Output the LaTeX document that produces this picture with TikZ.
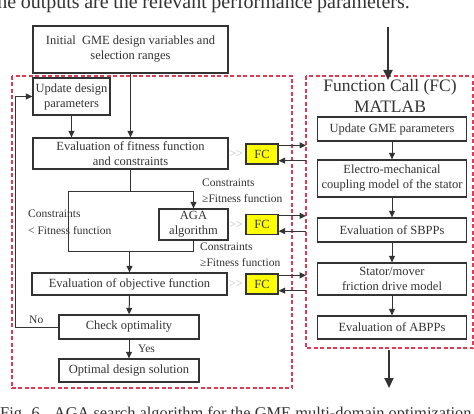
\documentclass[tikz,border=0pt]{standalone}
\usepackage{fontspec}
\setmainfont{Liberation Serif}
\usetikzlibrary{arrows.meta}

\definecolor{ink}{HTML}{333333}
\definecolor{dashred}{HTML}{E23A55}
\definecolor{fcyellow}{HTML}{FFFF00}

\begin{document}
\begin{tikzpicture}[x=1pt, y=-1pt,
	box/.style={draw=ink, line width=1.3pt, text=ink, align=center, inner sep=0pt,
		font=\fontsize{12.5}{15}\selectfont},
	fcbox/.style={box, fill=fcyellow, minimum width=32pt, minimum height=20pt},
	frame/.style={draw=dashred, line width=1.1pt, dash pattern=on 4pt off 2.5pt},
	flow/.style={draw=ink, line width=1pt, -{Triangle[width=6pt,length=6.5pt]}},
	wire/.style={draw=ink, line width=1pt},
	big/.style={draw=ink, line width=2pt, -{Triangle[width=9pt,length=10pt]}},
	lbl/.style={text=ink, inner sep=0pt, anchor=west, font=\fontsize{11.5}{13}\selectfont},
	gt/.style={text=gray!50, inner sep=0pt, font=\fontsize{12}{13}\selectfont}]

% canvas %{{{2

	\fill[white] (0,0) rectangle (474,414);
	\path[use as bounding box, clip] (0,0) rectangle (474,414);

% parameters %{{{2

	\def\fcx{262}
	\def\matx{392}

% text around the figure %{{{2

	\node[anchor=base east, inner sep=0pt, text=ink, font=\fontsize{20}{24}\selectfont]
		(intro) at (410,9)
		{\makebox[418pt][s]{the outputs are the relevant performance parameters.}};
	\node[anchor=base west, inner sep=0pt, text=ink, font=\fontsize{16.4}{20}\selectfont]
		(caption) at (0,418)
		{Fig. 6.\hspace{10pt}AGA search algorithm for the GME multi-domain optimization};

% dashed frames %{{{2

	\draw[frame] (12,76) rectangle (292,388);
	\draw[frame] (306,76) rectangle (473,348);
	\coordinate (mat) at (306,0);

% AGA loop boxes %{{{2

	\node[box, minimum width=195pt, minimum height=47pt] (init) at (130.5,49.5)
		{Initial\ \ GME design variables and\\selection ranges};
	\node[box, minimum width=77pt, minimum height=37pt] (upd) at (71.5,96.5)
		{Update design\\parameters};
	\node[box, minimum width=195pt, minimum height=31pt] (fit) at (130.5,153.5)
		{Evaluation of fitness function\\and constraints};
	\node[box, minimum width=69pt, minimum height=31pt] (aga) at (193.5,224.5)
		{AGA\\algorithm};
	\node[box, minimum width=195pt, minimum height=22pt] (obj) at (129.5,284)
		{Evaluation of objective function};
	\node[box, minimum width=140pt, minimum height=24pt] (chk) at (129,327)
		{Check optimality};
	\node[box, minimum width=140pt, minimum height=23pt] (opt) at (129,370.5)
		{Optimal design solution};

% function calls %{{{2

	\node[fcbox] (fc1) at (\fcx,154) {FC};
	\node[fcbox] (fc2) at (\fcx,224.5) {FC};
	\node[fcbox] (fc3) at (\fcx,284) {FC};

	\node[gt] (gt1) at (236,154.5) {>{}>};
	\node[gt] (gt2) at (236,225) {>{}>};
	\node[gt] (gt3) at (236,284.5) {>{}>};

% MATLAB boxes %{{{2

	\node[text=ink, align=center, inner sep=0pt, font=\fontsize{17.5}{21}\selectfont]
		(title) at (390,96) {Function Call (FC)\\MATLAB};

	\node[box, minimum width=149pt, minimum height=24pt] (gme) at (\matx,129)
		{Update GME parameters};
	\node[box, minimum width=149pt, minimum height=37pt] (emc) at (\matx,178.5)
		{Electro-mechanical\\coupling model of the stator};
	\node[box, minimum width=149pt, minimum height=24pt] (sbp) at (\matx,230)
		{Evaluation of SBPPs};
	\node[box, minimum width=149pt, minimum height=32pt] (smf) at (\matx,279)
		{Stator/mover\\friction drive model};
	\node[box, minimum width=149pt, minimum height=23pt] (abp) at (\matx,327.5)
		{Evaluation of ABPPs};

% branch points %{{{2

	\coordinate (splitL) at (68,192);
	\coordinate (joinL) at (68,252);

% connectors %{{{2

	\draw[flow] (init) -- (fit);
	\draw[flow] (upd) -- (upd |- fit.north);

	\draw[wire] (fit.south) |- (splitL);
	\draw[flow] (fit.south |- splitL) -| (aga.north);
	\draw[wire] (splitL) -- (joinL) -| (aga.south);
	\draw[flow] (joinL -| obj.north) -- (obj.north);

	\draw[flow] (obj) -- (chk);
	\draw[flow] (chk) -- (opt);
	\draw[flow] (chk.west) -- ++(-43,0) |- (upd.west);

	\foreach \f in {fc1,fc2,fc3} {
		\draw[flow] ([yshift=-2pt]\f.north east) -- ([yshift=-2pt]\f.north east -| mat);
		\draw[flow] ([yshift=4pt]\f.south east -| mat) -- ([yshift=4pt]\f.south east);
	}

	\draw[flow] (gme) -- (emc);
	\draw[flow] (emc) -- (sbp);
	\draw[flow] (sbp) -- (smf);
	\draw[flow] (smf) -- (abp);

	\coordinate (inTop) at (388,27);
	\coordinate (inEnd) at (388,80);
	\coordinate (outTop) at (389,350);
	\coordinate (outEnd) at (389,388);
	\draw[big] (inTop) -- (inEnd);
	\draw[big] (outTop) -- (outEnd);

% labels %{{{2

	\node[lbl] (c1a) at (202,183) {Constraints};
	\node[lbl] (c1b) at (202,199) {≥Fitness function};
	\node[lbl] (c2a) at (28,214) {Constraints};
	\node[lbl] (c2b) at (28,231) {< Fitness function};
	\node[lbl] (c3a) at (200,247) {Constraints};
	\node[lbl] (c3b) at (200,263) {≥Fitness function};

	\node[lbl] (no) at (29,320) {No};
	\node[lbl] (yes) at (138,349) {Yes};

% closing %{{{2

\end{tikzpicture}
\end{document}
